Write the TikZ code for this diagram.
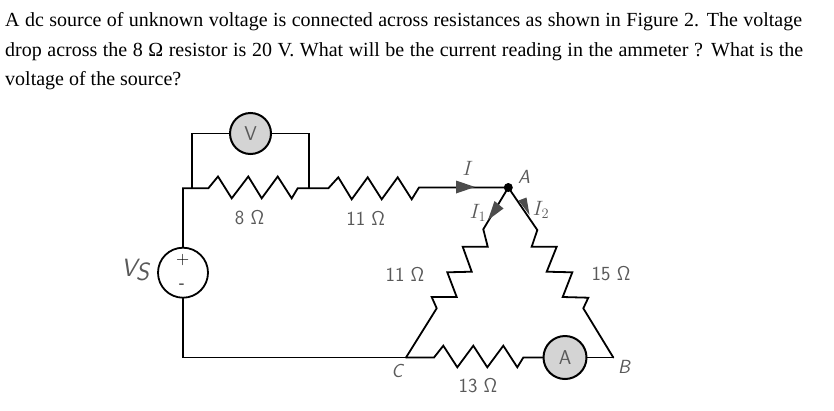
\documentclass[tikz,border=0pt]{standalone}
\usepackage{fontspec}
\setmainfont{Liberation Serif}
\newfontfamily\lmsf{Latin Modern Sans}
\newcommand{\ohmsym}{\char"2126\relax}
\definecolor{labelgray}{gray}{0.35}
\definecolor{headgray}{gray}{0.3}
\definecolor{metergray}{gray}{0.83}
\tikzset{
  wire/.style={line width=1.8pt,line join=miter,line cap=round},
  meter/.style={circle,draw,line width=2pt,fill=metergray,minimum size=#1,inner sep=0pt,text=labelgray,font=\fontsize{20}{20}\selectfont\lmsf},
  srcnode/.style={circle,draw,line width=1.8pt,fill=white,minimum size=50pt,inner sep=0pt},
  lab/.style={text=labelgray,font=\fontsize{20}{20}\selectfont\lmsf,inner sep=0pt},
  ilab/.style={text=labelgray,font=\fontsize{19}{19}\selectfont\lmsf\itshape,inner sep=0pt},
  mlab/.style={text=labelgray,font=\fontsize{21}{21}\selectfont,inner sep=0pt},
  para/.style={anchor=base west,inner sep=0pt,font=\fontsize{20}{20}\selectfont},
  head/.style={fill=headgray,draw=none},
  dot/.style={circle,fill=black,minimum size=9pt,inner sep=0pt},
  signnode/.style={inner sep=0pt,text height=8pt,text depth=0pt,font=\fontsize{18}{18}\selectfont\lmsf}
}
\begin{document}
\begin{tikzpicture}[x=1pt,y=-1pt]
\useasboundingbox (0,0) rectangle (834,410);
% text
\node[para] (t1) at (5,26) {\makebox[797pt][s]{A dc source of unknown voltage is connected across resistances as shown in Figure 2. The voltage}};
\node[para] (t2) at (5,56.5) {\makebox[798pt][s]{drop across the 8 Ω resistor is 20 V. What will be the current reading in the ammeter ? What is the}};
\node[para] (t3) at (5,85.5) {voltage of the source?};
% junctions
\coordinate (TL) at (183,188.3);
\coordinate (VL) at (192,188.3);
\coordinate (VR) at (309.3,188.3);
\coordinate (BL) at (183,357.5);
\coordinate (C) at (406,357.5);
\coordinate (B) at (613.3,357.5);
\node[dot] (Aj) at (508.3,187.5) {};
\node[srcnode] (src) at (183,272.7) {};
\node[meter=41pt] (Vm) at (250.5,133.5) {V};
\node[meter=43pt] (Am) at (565,357.5) {A};
% wires
\draw[wire] (src.north) -- (TL) -- (VL) -- (208.3,188.3) -- (218,176.5) -- (231.7,198.3) -- (248.3,176.5) -- (261.7,198.3) -- (277.7,176.5) -- (291.7,198.3) -- (297.7,188.3) -- (VR)
  -- (328.3,188.3) -- (338.3,177.3) -- (351.7,199.3) -- (367.7,177.3) -- (381.7,199.3) -- (397.7,177.3) -- (411.7,199.3) -- (419,187.5) -- (Aj.center);
\draw[wire] (VL) -- (192,133.5) -- (Vm.west);
\draw[wire] (Vm.east) -- (309.3,133.5) -- (VR);
\draw[wire] (src.south) -- (BL) -- (C);
\draw[wire] (Aj.center) -- (483.3,229.3) -- (487.7,246.7) -- (462.7,246.7) -- (471.7,271.7) -- (447.3,272.3) -- (456.7,297) -- (431.7,297) -- (436.7,308.3) -- (C);
\draw[wire] (Aj.center) -- (537.3,230) -- (531.7,246.7) -- (556.7,246.7) -- (546.7,271.7) -- (572.3,272.3) -- (562.7,297) -- (588.3,297.7) -- (583.3,308.3) -- (B);
\draw[wire] (C) -- (434,357.5) -- (443.3,345.7) -- (457.3,367.3) -- (473.3,345.7) -- (487.3,367.3) -- (503.3,345.7) -- (517.3,367.3) -- (523.3,357.5) -- (Am.west);
\draw[wire] (Am.east) -- (B);
% arrowheads
\fill[head] (475,187) -- (456,180.5) -- (456,193.5) -- cycle;
\fill[head] (488,220) -- (494.5,201) -- (503.5,208.5) -- cycle;
\fill[head] (529.5,215) -- (518.5,200.5) -- (526.5,197.5) -- cycle;
% source signs
\node[signnode] (plus) at (182.7,260) {+};
\node[signnode] (minus) at (182,284) {-};
% labels
\node[lab] (l8) at (249.5,218) {8 \ohmsym};
\node[lab] (l11a) at (365.7,218) {11 \ohmsym};
\node[lab] (l11b) at (405,274) {11 \ohmsym};
\node[lab] (l15) at (611,274) {15 \ohmsym};
\node[lab] (l13) at (478,386) {13 \ohmsym};
\node[ilab] (lC) at (397,371) {C};
\node[ilab] (lB) at (624,367) {B};
\node[ilab] (lA) at (524,177) {A};
\node[mlab] (lI) at (468,168) {$I$};
\node[mlab] (lI1) at (478,213) {$I_1$};
\node[mlab] (lI2) at (541,210) {$I_2$};
\node[ilab,font=\fontsize{25}{25}\selectfont\lmsf\itshape] (lVs) at (135,270) {V\kern-1pt\raisebox{-4pt}{S}};
\end{tikzpicture}
\end{document}
